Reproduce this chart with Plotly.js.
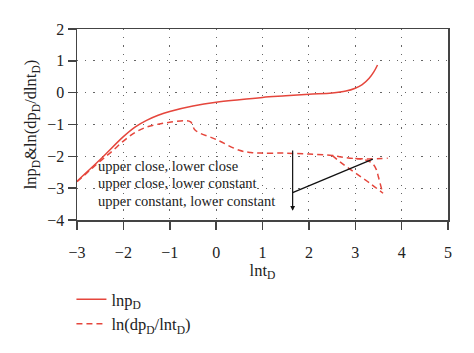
<!DOCTYPE html>
<html>
<head>
<meta charset="utf-8">
<script src="https://cdn.plot.ly/plotly-3.0.1.min.js"></script>
<style>html,body{margin:0;padding:0;background:#fff;}#chart{width:474px;height:353px;}</style>
</head>
<body>
<div id="chart"></div>
<script>
// lnpD (solid)
const xSolid = [-3, -2.5, -2, -1.75, -1.5, -1.25, -1, -0.5, 0, 0.5, 1, 1.5, 2, 2.5, 2.8, 3.0, 3.15, 3.3, 3.4, 3.48];
const ySolid = [-2.78, -2.1, -1.38, -1.08, -0.87, -0.71, -0.59, -0.42, -0.3, -0.22, -0.15, -0.1, -0.05, -0.01, 0.05, 0.14, 0.25, 0.45, 0.65, 0.87];
// ln(dpD/lntD) (dashed) main branch: upper constant, lower constant
const xDash = [-3, -2.5, -2.25, -2, -1.75, -1.5, -1.25, -1, -0.7, -0.55, -0.45, 0, 0.5, 0.75, 1, 1.5, 2, 2.5, 2.7, 3.0, 3.3, 3.7];
const yDash = [-2.8, -2.15, -1.85, -1.52, -1.25, -1.08, -0.99, -0.93, -0.88, -0.92, -1.18, -1.47, -1.81, -1.88, -1.9, -1.9, -1.93, -1.97, -2.02, -2.07, -2.08, -2.06];
// dashed branch: upper close, lower constant
const xBranchB = [3.0, 3.15, 3.25, 3.36, 3.45, 3.5, 3.57];
const yBranchB = [-2.07, -2.09, -2.13, -2.21, -2.4, -2.65, -3.04];
// dashed branch: upper close, lower close
const xBranchA = [2.5, 2.75, 3.03, 3.32, 3.6];
const yBranchA = [-1.97, -2.26, -2.55, -2.85, -3.16];

const xTicks = [-3, -2, -1, 0, 1, 2, 3, 4, 5];
const yTicks = [-4, -3, -2, -1, 0, 1, 2];
const tickText = v => (v < 0 ? '\u2212' + Math.abs(v) : String(v));

const labels = ['upper close, lower close', 'upper close, lower constant', 'upper constant, lower constant'];
const labelY = [-2.31, -2.85, -3.39];

const red = '#e5463c';
const font = 'Liberation Serif, Times New Roman, serif';

const traces = [
  {x: xSolid, y: ySolid, mode: 'lines', name: 'lnp<sub>D</sub>', line: {color: red, width: 1.5, shape: 'spline'}},
  {x: xDash, y: yDash, mode: 'lines', name: 'ln(dp<sub>D</sub>/lnt<sub>D</sub>)', legendgroup: 'd', line: {color: red, width: 1.5, dash: '6px,4px', shape: 'spline'}},
  {x: xBranchB, y: yBranchB, mode: 'lines', showlegend: false, legendgroup: 'd', line: {color: red, width: 1.5, dash: '6px,4px', shape: 'spline'}},
  {x: xBranchA, y: yBranchA, mode: 'lines', showlegend: false, legendgroup: 'd', line: {color: red, width: 1.5, dash: '6px,4px', shape: 'spline'}}
];

const annotations = labels.map((t, i) => ({
  x: -2.58, y: labelY[i], xref: 'x', yref: 'y', text: t, showarrow: false,
  xanchor: 'left', yanchor: 'middle', font: {family: font, size: 14.5, color: '#222'}
}));
annotations.push({
  x: 1.65, y: -3.71, ax: 1.65, ay: -1.77, axref: 'x', ayref: 'y', xref: 'x', yref: 'y',
  text: '', showarrow: true, arrowhead: 2, arrowsize: 0.8, arrowwidth: 1.2, arrowcolor: '#111'
});

const layout = {
  width: 474, height: 353,
  margin: {l: 77, r: 26, t: 29, b: 121},
  paper_bgcolor: '#fff', plot_bgcolor: '#fff',
  font: {family: font, size: 16, color: '#222'},
  xaxis: {
    range: [-3, 5], tickvals: xTicks, ticktext: xTicks.map(tickText),
    showgrid: true, gridcolor: '#666', griddash: '1.2px,7px', gridwidth: 1.2,
    zeroline: false, showline: true, linecolor: '#444', linewidth: 1.5, mirror: true,
    ticks: 'outside', ticklen: 8, tickwidth: 1.5, tickcolor: '#444',
    ticklabelstandoff: 9, tickfont: {family: font, size: 16},
    title: {text: 'lnt<sub>D</sub>', font: {family: font, size: 16.5}, standoff: 4}
  },
  yaxis: {
    range: [-4, 2], tickvals: yTicks, ticktext: yTicks.map(tickText),
    showgrid: true, gridcolor: '#666', griddash: '1.2px,7px', gridwidth: 1.2,
    zeroline: false, showline: true, linecolor: '#444', linewidth: 1.5, mirror: true,
    ticks: 'outside', ticklen: 8, tickwidth: 1.5, tickcolor: '#444',
    tickfont: {family: font, size: 16},
    title: {text: 'lnp<sub>D</sub>&amp;ln(dp<sub>D</sub>/dlnt<sub>D</sub>)', font: {family: font, size: 16.5}, standoff: 6}
  },
  showlegend: true,
  legend: {x: -0.015, y: -0.325, xanchor: 'left', yanchor: 'top', orientation: 'v',
    font: {family: font, size: 16.5}, bgcolor: 'rgba(0,0,0,0)', tracegroupgap: 0},
  shapes: [{type: 'line', xref: 'x', yref: 'y', x0: 1.65, y0: -3.14, x1: 3.38, y1: -2.09, line: {color: '#111', width: 1.3}}],
  annotations: annotations
};

Plotly.newPlot('chart', traces, layout, {displayModeBar: false, staticPlot: true});
</script>
</body>
</html>
